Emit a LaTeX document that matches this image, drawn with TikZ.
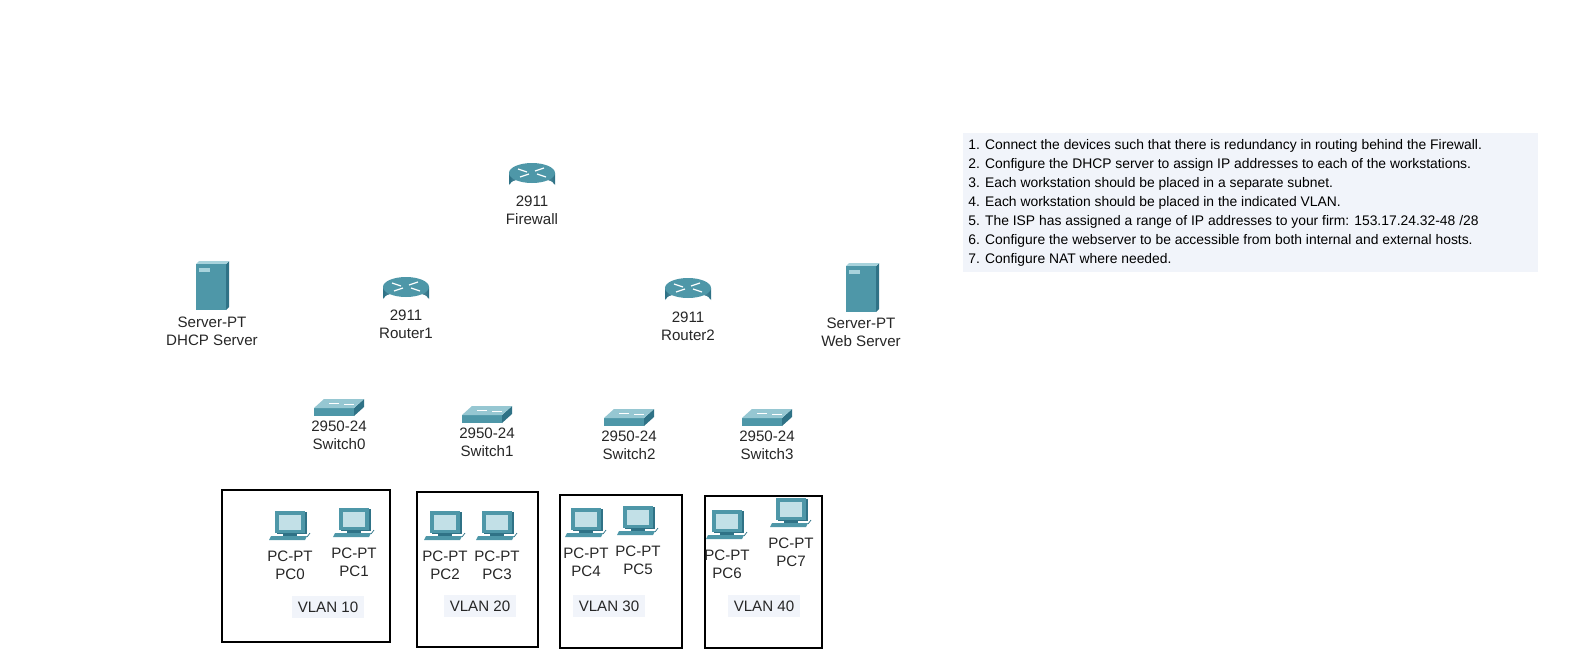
\documentclass[tikz,border=0pt]{standalone}
\usepackage{fontspec}
\setmainfont{Liberation Sans}
\usetikzlibrary{calc}
\definecolor{teal1}{HTML}{4E97A8}
\definecolor{teal2}{HTML}{2F7286}
\definecolor{teal3}{HTML}{A8D3DC}
\definecolor{notebg}{HTML}{F1F4FA}
\begin{document}
\begin{tikzpicture}[x=0.02cm,y=-0.02cm]
    % Styles
    \tikzset{
        lbl/.style={font=\fontsize{8.6}{9}\selectfont, inner sep=0pt, text=black!85},
        vlan/.style={lbl, fill=notebg, inner sep=3pt},
        group/.style={draw=black, line width=0.6pt},
        note/.style={font=\fontsize{7.9}{9}\selectfont, inner sep=0pt, anchor=west},
        router/.pic={
            \fill[teal2] (-23,-4) -- (-23,8) arc[start angle=180, end angle=360, x radius=23, y radius=7] -- (23,-4) -- cycle;
            \shade[left color=teal2, right color=teal2, middle color=teal3] (-22,-4) -- (-22,7) arc[start angle=180, end angle=360, x radius=22, y radius=6] -- (22,-4) -- cycle;
            \fill[teal1] (0,-4) ellipse[x radius=23, y radius=10];
            \draw[white, line width=0.7pt] (-14,-8) -- (-5,-5) (14,0) -- (5,-3) (-12,0) -- (-3,-3) (12,-9) -- (3,-6);
        },
        switch/.pic={
            \fill[teal1] (-25,0) -- (-25,8) -- (15,8) -- (15,0) -- cycle;
            \fill[teal2] (15,0) -- (25,-9) -- (25,-1) -- (15,8) -- cycle;
            \fill[teal3!80!teal1] (-25,0) -- (-15,-9) -- (25,-9) -- (15,0) -- cycle;
            \draw[white, line width=0.4pt] (-10,-5) -- (0,-5) (5,-4) -- (15,-4);
        },
        server/.pic={
            \fill[teal2] (15,-22) -- (18,-25) -- (18,21) -- (15,24) -- cycle;
            \fill[teal3] (-15,-22) -- (-12,-25) -- (18,-25) -- (15,-22) -- cycle;
            \fill[teal1] (-15,-22) rectangle (15,24);
            \fill[teal3] (-12,-18) rectangle (-1,-14);
        },
        pc/.pic={
            \fill[teal2] (-13,-15) rectangle (17,7);
            \fill[teal1] (-15,-16) rectangle (15,6);
            \fill[teal3!70!white] (-11,-12) rectangle (11,3);
            \fill[teal2] (-7,6) rectangle (7,9);
            \fill[teal1] (-19,9) -- (17,9) -- (15,13) -- (-21,13) -- cycle;
            \draw[teal2, line width=0.4pt] (17,10) -- (20,6);
        }
    }
    \useasboundingbox (0,0) rectangle (1570,670);

    % Routers
    \pic (fw) at (532,177) {router};
    \node[lbl] (fwa) at (532,201) {2911};
    \node[lbl] (fwb) at (532,219) {Firewall};
    \pic (r1) at (406,291) {router};
    \node[lbl] (r1a) at (406,315) {2911};
    \node[lbl] (r1b) at (406,333) {Router1};
    \pic (r2) at (688,292) {router};
    \node[lbl] (r2a) at (688,317) {2911};
    \node[lbl] (r2b) at (688,335) {Router2};

    % Servers
    \pic (dhcp) at (211,286) {server};
    \node[lbl] (dhcpa) at (212,322) {Server-PT};
    \node[lbl] (dhcpb) at (212,340) {DHCP Server};
    \pic (web) at (861,288) {server};
    \node[lbl] (weba) at (861,323) {Server-PT};
    \node[lbl] (webb) at (861,341) {Web Server};

    % Switches
    \foreach \n/\x/\y in {0/339/408, 1/487/415, 2/629/418, 3/767/418} {
        \pic (sw\n) at (\x,\y) {switch};
        \node[lbl] (sw\n a) at (\x,\y+18) {2950-24};
        \node[lbl] (sw\n b) at (\x,\y+36) {Switch\n};
    }

    % VLAN groups
    \draw[group] (222,490) rectangle (390,642);
    \draw[group] (417,492) rectangle (538,647);
    \draw[group] (560,495) rectangle (682,648);
    \draw[group] (705,496) rectangle (822,648);

    % PCs
    \foreach \n/\x/\y in {0/290/527, 1/354/524, 2/445/527, 3/497/527, 4/586/524, 5/638/522, 6/727/526, 7/791/514} {
        \pic (pc\n) at (\x,\y) {pc};
        \node[lbl] (pc\n a) at (\x,\y+29) {PC-PT};
        \node[lbl] (pc\n b) at (\x,\y+47) {PC\n};
    }

    % VLAN labels
    \node[vlan] (v10) at (328,607) {VLAN 10};
    \node[vlan] (v20) at (480,606) {VLAN 20};
    \node[vlan] (v30) at (609,606) {VLAN 30};
    \node[vlan] (v40) at (764,606) {VLAN 40};

    % Task list
    \fill[notebg] (963,133) rectangle (1538,272);
    \node[note] (t1) at (968,146) {1. Connect the devices such that there is redundancy in routing behind the Firewall.};
    \node[note] (t2) at (968,165) {2. Configure the DHCP server to assign IP addresses to each of the workstations.};
    \node[note] (t3) at (968,184) {3. Each workstation should be placed in a separate subnet.};
    \node[note] (t4) at (968,203) {4. Each workstation should be placed in the indicated VLAN.};
    \node[note] (t5) at (968,222) {5. The ISP has assigned a range of IP addresses to your firm: 153.17.24.32-48 /28};
    \node[note] (t6) at (968,241) {6. Configure the webserver to be accessible from both internal and external hosts.};
    \node[note] (t7) at (968,260) {7. Configure NAT where needed.};
\end{tikzpicture}
\end{document}
